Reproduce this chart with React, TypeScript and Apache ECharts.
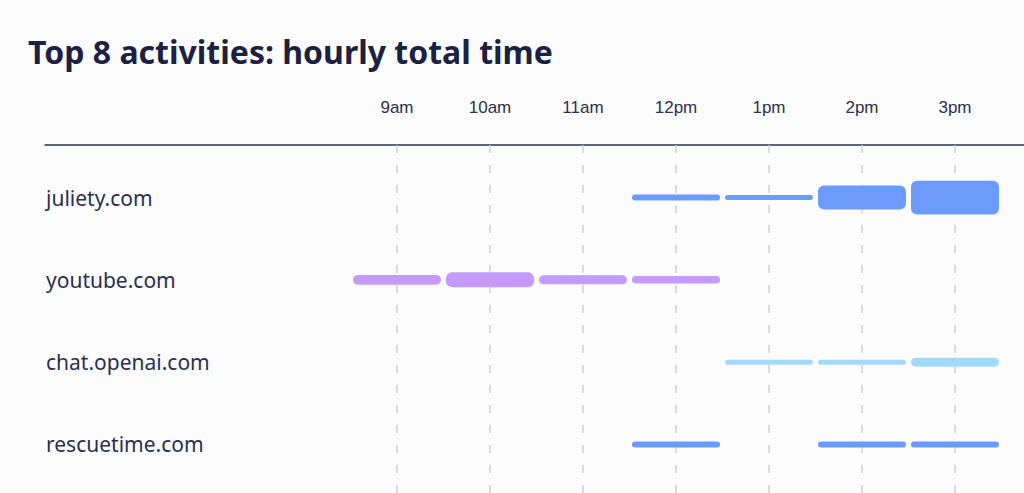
import React, { useEffect, useRef } from "react";
import * as echarts from "echarts";

const titleText = "Top 8 activities: hourly total time";
const hours = [9, 10, 11, 12, 13, 14, 15];
const hourLabels = ["9am", "10am", "11am", "12pm", "1pm", "2pm", "3pm"];
const sites = ["juliety.com", "youtube.com", "chat.openai.com", "rescuetime.com"];
// minutes per hour (null = no activity)
const juliety = [null, null, null, 8, 5, 32, 45];
const youtube = [13, 20, 12, 10, null, null, null];
const chatOpenai = [null, null, null, null, 5, 6, 12];
const rescuetime = [null, null, null, 8, null, 8, 8];
const siteColors = ["#6b9cfd", "#c49bfa", "#a2dafb", "#6b9cfd"];

const seriesValues = [juliety, youtube, chatOpenai, rescuetime];

export default function App() {
  const ref = useRef<HTMLDivElement>(null);
  useEffect(() => {
    if (!ref.current) return;
    const chart = echarts.init(ref.current, null, { renderer: "svg" });
    const data: any[] = [];
    seriesValues.forEach((vals, row) => {
      vals.forEach((v, i) => {
        if (v != null) data.push([hours[i], row, v]);
      });
    });
    chart.setOption({
      animation: false,
      backgroundColor: "#fcfcfd",
      title: {
        text: titleText,
        left: 23,
        top: 30,
        textStyle: {
          fontFamily: "Noto Sans",
          fontSize: 32,
          fontWeight: 700,
          color: "#1c2142",
        },
      },
      grid: { left: 45, right: 0, top: 145, bottom: 0, containLabel: false },
      xAxis: {
        type: "value",
        position: "top",
        min: 5.2151,
        max: 15.742,
        axisLine: { show: true, onZero: false, lineStyle: { color: "#2e3250", width: 1.5 } },
        axisTick: { show: false },
        splitLine: { show: false },
        axisLabel: {
          customValues: hours,
          formatter: (v: number) => hourLabels[hours.indexOf(Math.round(v))] ?? "",
          fontFamily: "Liberation Sans",
          fontSize: 17,
          color: "#2c3049",
          margin: 29,
        },
      },
      yAxis: {
        type: "value",
        inverse: true,
        min: -0.638,
        max: 3.59,
        axisLine: { show: false, onZero: false },
        axisTick: { show: false },
        splitLine: { show: false },
        axisLabel: {
          customValues: [0, 1, 2, 3],
          formatter: (v: number) => sites[Math.round(v)] ?? "",
          inside: true,
          margin: 1,
          fontFamily: "Noto Sans",
          fontSize: 21,
          color: "#2a2f4e",
        },
      },
      series: [
        {
          type: "custom",
          encode: { x: 0, y: 1 },
          data,
          renderItem: (params: any, api: any) => {
            const hour = api.value(0);
            const row = api.value(1);
            const v = api.value(2);
            const c = api.coord([hour, row]);
            const w = api.size([1, 0])[0] - 5;
            const h = Math.max(5, v * 0.75);
            return {
              type: "rect",
              z2: 10,
              shape: { x: c[0] - w / 2, y: c[1] - h / 2, width: w, height: h, r: Math.min(h / 2, 6) },
              style: { fill: siteColors[row] },
            };
          },
          markLine: {
            silent: true,
            symbol: ["none", "none"],
            label: { show: false },
            lineStyle: { type: [8, 12], color: "#ccd0dc", width: 1.5 },
            data: hours.map((h) => ({ xAxis: h })),
            z: 1,
          },
          z: 2,
        },
      ],
    });
    return () => chart.dispose();
  }, []);
  return (
    <div
      ref={ref}
      style={{ position: "fixed", left: 0, top: 0, width: 1024, height: 493, background: "#fcfcfd" }}
    />
  );
}
